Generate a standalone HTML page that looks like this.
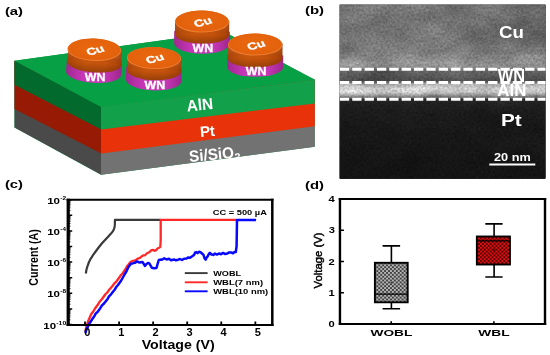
<!DOCTYPE html>
<html lang="en">
<head>
<meta charset="utf-8">
<title>Figure</title>
<style>
html,body{margin:0;padding:0;background:#fff;}
body{width:550px;height:355px;overflow:hidden;}
svg{display:block;font-family:"Liberation Sans",sans-serif;}
</style>
</head>
<body>
<svg width="550" height="355" viewBox="0 0 550 355">
<defs>
<linearGradient id="cuSide" x1="0" y1="0" x2="1" y2="0">
<stop offset="0" stop-color="#a8420a"/><stop offset="0.12" stop-color="#b84c0a"/><stop offset="0.35" stop-color="#c8560c"/><stop offset="0.7" stop-color="#c4520c"/><stop offset="0.92" stop-color="#b04608"/><stop offset="1" stop-color="#9a3c08"/>
</linearGradient>
<linearGradient id="wnSide" x1="0" y1="0" x2="1" y2="0">
<stop offset="0" stop-color="#a02890"/><stop offset="0.3" stop-color="#c636b6"/><stop offset="0.7" stop-color="#c838b8"/><stop offset="1" stop-color="#9c268c"/>
</linearGradient>
<linearGradient id="cuV" x1="0" y1="0" x2="0" y2="1"><stop offset="0.3" stop-color="#fff" stop-opacity="0.06"/><stop offset="0.6" stop-color="#000" stop-opacity="0.0"/><stop offset="1" stop-color="#000" stop-opacity="0.24"/></linearGradient>
<radialGradient id="cuTop" cx="0.5" cy="0.45" r="0.6">
<stop offset="0" stop-color="#e8680e"/><stop offset="1" stop-color="#e2600c"/>
</radialGradient>
<linearGradient id="temBase" x1="0" y1="4.6" x2="0" y2="178.6" gradientUnits="userSpaceOnUse">
<stop offset="0.0000" stop-color="#707070"/>
<stop offset="0.1460" stop-color="#767676"/>
<stop offset="0.2724" stop-color="#7c7c7c"/>
<stop offset="0.3126" stop-color="#868686"/>
<stop offset="0.3356" stop-color="#929292"/>
<stop offset="0.3586" stop-color="#8e8e8e"/>
<stop offset="0.3730" stop-color="#707070"/>
<stop offset="0.3845" stop-color="#5e5e5e"/>
<stop offset="0.4103" stop-color="#585858"/>
<stop offset="0.4362" stop-color="#4c4c4c"/>
<stop offset="0.4477" stop-color="#707070"/>
<stop offset="0.4592" stop-color="#b0b0b0"/>
<stop offset="0.4793" stop-color="#cccccc"/>
<stop offset="0.5023" stop-color="#c8c8c8"/>
<stop offset="0.5195" stop-color="#9c9c9c"/>
<stop offset="0.5339" stop-color="#686868"/>
<stop offset="0.5454" stop-color="#282828"/>
<stop offset="0.5655" stop-color="#222222"/>
<stop offset="0.6172" stop-color="#1b1b1b"/>
<stop offset="0.7494" stop-color="#171717"/>
<stop offset="1.0000" stop-color="#141414"/>
</linearGradient>
<linearGradient id="temH" x1="340" y1="0" x2="545.4" y2="0" gradientUnits="userSpaceOnUse">
<stop offset="0" stop-color="#000" stop-opacity="0"/><stop offset="0.5" stop-color="#000" stop-opacity="0"/><stop offset="1" stop-color="#000" stop-opacity="0.14"/>
</linearGradient>
<filter id="temNoise" x="0" y="0" width="1" height="1" color-interpolation-filters="sRGB">
<feTurbulence type="fractalNoise" baseFrequency="0.42" numOctaves="2" seed="7" result="n"/>
<feColorMatrix in="n" type="matrix" values="1 0 0 0 0  1 0 0 0 0  1 0 0 0 0  0 0 0 0 1" result="ng"/>
<feTurbulence type="fractalNoise" baseFrequency="0.03 0.045" numOctaves="2" seed="3" result="l"/>
<feColorMatrix in="l" type="matrix" values="0 1 0 0 0  0 1 0 0 0  0 1 0 0 0  0 0 0 0 1" result="lg"/>
<feComposite in="SourceGraphic" in2="ng" operator="arithmetic" k1="0.42" k2="0.79" k3="0.03" k4="-0.015" result="a"/>
<feComposite in="a" in2="lg" operator="arithmetic" k1="0.5" k2="0.75" k3="0" k4="0"/>
</filter>
<pattern id="hatG" x="375.35" y="263.4" width="3.9" height="3.8" patternUnits="userSpaceOnUse">
<rect width="3.9" height="3.8" fill="#363636"/>
<path d="M0.73,1.9 L1.95,0.6799999999999999 L3.17,1.9 L1.95,3.12 Z" fill="#e6e6e6"/><path d="M-1.22,0 L0,-1.22 L1.22,0 L0,1.22 Z" fill="#e6e6e6"/><path d="M2.6799999999999997,0 L3.9,-1.22 L5.12,0 L3.9,1.22 Z" fill="#e6e6e6"/><path d="M-1.22,3.8 L0,2.58 L1.22,3.8 L0,5.02 Z" fill="#e6e6e6"/><path d="M2.6799999999999997,3.8 L3.9,2.58 L5.12,3.8 L3.9,5.02 Z" fill="#e6e6e6"/>
</pattern>
<pattern id="hatR" x="476.95" y="236.4" width="3.9" height="3.8" patternUnits="userSpaceOnUse">
<rect width="3.9" height="3.8" fill="#260000"/>
<path d="M0.53,1.9 L1.95,0.48 L3.37,1.9 L1.95,3.32 Z" fill="#ff1212"/><path d="M-1.42,0 L0,-1.42 L1.42,0 L0,1.42 Z" fill="#ff1212"/><path d="M2.48,0 L3.9,-1.42 L5.32,0 L3.9,1.42 Z" fill="#ff1212"/><path d="M-1.42,3.8 L0,2.38 L1.42,3.8 L0,5.22 Z" fill="#ff1212"/><path d="M2.48,3.8 L3.9,2.38 L5.32,3.8 L3.9,5.22 Z" fill="#ff1212"/>
</pattern>
<clipPath id="slabClip"><polygon points="14.5,60.7 224.1,31.8 314.8,79.8 314.8,146.8 101,174.7 14.5,127.4"/></clipPath>
</defs>
<rect width="550" height="355" fill="#fff"/>

<g id="panelA">
<polygon points="14.5,60.7 224.1,31.8 314.8,79.8 314.8,146.8 101.0,174.7 14.5,127.4" fill="#0a9c46"/>
<polygon points="14.5,60.7 101.3,106.5 101.3,174.7 14.5,127.4" fill="#4a4a4a"/>
<polygon points="14.5,60.7 101.3,106.5 101.3,153.6 14.5,108.9" fill="#961a04"/>
<polygon points="14.5,60.7 101.3,106.5 101.3,129.4 14.5,84.8" fill="#026a2c"/>
<polygon points="101.0,106.5 314.8,79.8 314.8,146.8 101.0,174.7" fill="#727272"/>
<polygon points="101.0,106.5 314.8,79.8 314.8,126.3 101.0,153.6" fill="#e8320a"/>
<polygon points="101.0,106.5 314.8,79.8 314.8,103.5 101.0,129.4" fill="#12a04a"/>
<polygon points="14.5,60.7 224.1,31.8 314.8,79.8 101.0,106.9" fill="#08a044"/>
<g transform="rotate(0.7 202.0 34.3)">
<path d="M174.20,31.30 L174.20,43.20 A27.80,10.6 0 0 0 229.80,43.20 L229.80,31.30 Z" fill="url(#wnSide)"/>
<path d="M174.90,20.60 L174.90,34.30 A27.1,9.4 0 0 0 229.10,34.30 L229.10,20.60 Z" fill="url(#cuSide)"/>
<path d="M174.90,20.60 L174.90,34.30 A27.1,9.4 0 0 0 229.10,34.30 L229.10,20.60 Z" fill="url(#cuV)"/>
</g>
<g transform="rotate(0.5 202.0 21.6)">
<ellipse cx="202.0" cy="21.6" rx="27.1" ry="11.0" fill="#ec7c2e"/>
<ellipse cx="202.0" cy="21.05" rx="26.400000000000002" ry="10.45" fill="url(#cuTop)"/>
</g>
<text transform="translate(202.90 22.10) scale(1.4 1) rotate(-21)" x="0" y="3.4" text-anchor="middle" font-size="9.8" font-weight="bold" fill="#fff" stroke="#fff" stroke-width="0.3">Cu</text>
<text x="192.59" y="51.80" font-size="10.32" font-weight="bold" fill="#fff" textLength="20.65" lengthAdjust="spacingAndGlyphs" stroke="#fff" stroke-width="0.3">WN</text>
<g transform="rotate(4.0 94.3 63.6)">
<path d="M66.70,60.60 L66.70,73.10 A27.60,9.8 0 0 0 121.90,73.10 L121.90,60.60 Z" fill="url(#wnSide)"/>
<path d="M67.40,48.80 L67.40,63.60 A26.9,8.8 0 0 0 121.20,63.60 L121.20,48.80 Z" fill="url(#cuSide)"/>
<path d="M67.40,48.80 L67.40,63.60 A26.9,8.8 0 0 0 121.20,63.60 L121.20,48.80 Z" fill="url(#cuV)"/>
</g>
<g transform="rotate(2.0 94.3 49.8)">
<ellipse cx="94.3" cy="49.8" rx="26.9" ry="11.2" fill="#ec7c2e"/>
<ellipse cx="94.3" cy="49.25" rx="26.2" ry="10.649999999999999" fill="url(#cuTop)"/>
</g>
<text transform="translate(95.20 50.30) scale(1.4 1) rotate(-21)" x="0" y="3.4" text-anchor="middle" font-size="9.8" font-weight="bold" fill="#fff" stroke="#fff" stroke-width="0.3">Cu</text>
<text x="84.89" y="80.90" font-size="10.32" font-weight="bold" fill="#fff" textLength="20.65" lengthAdjust="spacingAndGlyphs" stroke="#fff" stroke-width="0.3">WN</text>
<g transform="rotate(0.0 255.2 58.5)">
<path d="M227.20,55.50 L227.20,67.00 A28.00,9.8 0 0 0 283.20,67.00 L283.20,55.50 Z" fill="url(#wnSide)"/>
<path d="M227.90,43.60 L227.90,58.50 A27.3,9.0 0 0 0 282.50,58.50 L282.50,43.60 Z" fill="url(#cuSide)"/>
<path d="M227.90,43.60 L227.90,58.50 A27.3,9.0 0 0 0 282.50,58.50 L282.50,43.60 Z" fill="url(#cuV)"/>
</g>
<g transform="rotate(0.3 255.2 44.6)">
<ellipse cx="255.2" cy="44.6" rx="27.3" ry="11.0" fill="#ec7c2e"/>
<ellipse cx="255.2" cy="44.050000000000004" rx="26.6" ry="10.45" fill="url(#cuTop)"/>
</g>
<text transform="translate(256.10 45.10) scale(1.4 1) rotate(-21)" x="0" y="3.4" text-anchor="middle" font-size="9.8" font-weight="bold" fill="#fff" stroke="#fff" stroke-width="0.3">Cu</text>
<text x="245.79" y="74.80" font-size="10.32" font-weight="bold" fill="#fff" textLength="20.65" lengthAdjust="spacingAndGlyphs" stroke="#fff" stroke-width="0.3">WN</text>
<g transform="rotate(1.8 154.0 70.6)">
<path d="M126.20,67.60 L126.20,80.20 A27.80,10.3 0 0 0 181.80,80.20 L181.80,67.60 Z" fill="url(#wnSide)"/>
<path d="M126.90,57.10 L126.90,70.60 A27.1,9.6 0 0 0 181.10,70.60 L181.10,57.10 Z" fill="url(#cuSide)"/>
<path d="M126.90,57.10 L126.90,70.60 A27.1,9.6 0 0 0 181.10,70.60 L181.10,57.10 Z" fill="url(#cuV)"/>
</g>
<g transform="rotate(1.5 154.0 58.1)">
<ellipse cx="154.0" cy="58.1" rx="27.1" ry="11.0" fill="#ec7c2e"/>
<ellipse cx="154.0" cy="57.550000000000004" rx="26.400000000000002" ry="10.45" fill="url(#cuTop)"/>
</g>
<text transform="translate(154.90 58.60) scale(1.4 1) rotate(-21)" x="0" y="3.4" text-anchor="middle" font-size="9.8" font-weight="bold" fill="#fff" stroke="#fff" stroke-width="0.3">Cu</text>
<text x="144.59" y="88.50" font-size="10.32" font-weight="bold" fill="#fff" textLength="20.65" lengthAdjust="spacingAndGlyphs" stroke="#fff" stroke-width="0.3">WN</text>
<g clip-path="url(#slabClip)">
<text x="187.22" y="111.40" font-size="15.99" font-weight="bold" fill="#fff" textLength="26.42" lengthAdjust="spacingAndGlyphs" transform="rotate(-5.5 187.60 111.40)">AlN</text>
<text x="200.40" y="137.00" font-size="14.97" font-weight="bold" fill="#fff" textLength="14.99" lengthAdjust="spacingAndGlyphs" transform="rotate(-5 201.40 137.00)">Pt</text>
<text x="189.56" y="161.9" font-size="16.0" font-weight="bold" fill="#fff" transform="rotate(-5.2 190 161.9)"><tspan textLength="45.08" lengthAdjust="spacingAndGlyphs">Si/SiO</tspan><tspan font-size="10.5" dy="3" dx="0.3">2</tspan></text>
</g>
<text x="4.96" y="14.90" font-size="11.50" font-weight="bold" fill="#000" textLength="18.07" lengthAdjust="spacingAndGlyphs">(a)</text>
</g>
<g id="panelB">
<g filter="url(#temNoise)"><rect x="339.6" y="4.6" width="205.9" height="174" fill="url(#temBase)"/><rect x="339.6" y="4.6" width="205.9" height="50" fill="url(#temH)"/></g>
<text x="498.93" y="38.00" font-size="17.01" font-weight="bold" fill="#fff" textLength="24.90" lengthAdjust="spacingAndGlyphs">Cu</text>
<text x="497.68" y="82.40" font-size="17.44" font-weight="bold" fill="#fff" textLength="27.32" lengthAdjust="spacingAndGlyphs">WN</text>
<text x="497.28" y="96.20" font-size="15.70" font-weight="bold" fill="#fff" textLength="29.16" lengthAdjust="spacingAndGlyphs">AlN</text>
<text x="501.01" y="125.60" font-size="16.57" font-weight="bold" fill="#fff" textLength="20.74" lengthAdjust="spacingAndGlyphs">Pt</text>
<text x="494.06" y="160.80" font-size="10.47" font-weight="bold" fill="#fff" textLength="36.73" lengthAdjust="spacingAndGlyphs">20 nm</text>
<line x1="339.6" y1="69.2" x2="545.5" y2="69.2" stroke="#fff" stroke-width="3.0" stroke-dasharray="9.3 3.05" stroke-dashoffset="-0.3"/>
<line x1="339.6" y1="82.4" x2="545.5" y2="82.4" stroke="#fff" stroke-width="3.0" stroke-dasharray="9.3 3.05" stroke-dashoffset="-0.3"/>
<line x1="339.6" y1="99.2" x2="545.5" y2="99.2" stroke="#fff" stroke-width="3.0" stroke-dasharray="9.3 3.05" stroke-dashoffset="-0.3"/>
<line x1="489.3" y1="164.6" x2="535.3" y2="164.6" stroke="#fff" stroke-width="2.0"/>
<text x="304.96" y="13.80" font-size="11.50" font-weight="bold" fill="#000" textLength="19.09" lengthAdjust="spacingAndGlyphs">(b)</text>
</g>
<g id="panelC">
<polyline points="85.8,273.5 86.5,269.5 87.6,265.8 89.0,262.0 90.8,258.6 93.0,255.2 96.0,251.0 99.0,247.0 102.0,243.3 105.5,239.5 108.8,236.0 111.0,233.6 112.8,231.4 113.9,229.3 114.6,227.0 114.9,224.0 114.9,219.9 160.6,219.9" fill="none" stroke="#3a3a3a" stroke-width="2.2" stroke-linejoin="round" stroke-linecap="butt"/>
<polyline points="85.4,331.5 86.2,327.0 88.0,321.5 91.0,314.5 93.0,311.8 95.0,308.5 98.3,304.0 100.0,301.2 102.0,299.0 105.6,294.0 107.2,292.6 109.0,290.0 112.9,285.5 114.5,283.2 116.0,282.0 119.3,277.5 121.0,275.0 122.5,273.5 125.6,269.0 127.0,266.2 128.5,264.5 131.0,261.5 133.3,260.8 135.8,260.2 138.0,258.5 140.0,257.8 142.6,255.7 145.0,255.2 147.0,253.2 149.3,252.3 151.0,250.4 152.7,249.9 154.5,250.8 156.1,250.2 157.5,248.5 159.0,247.8 160.3,246.8 160.7,240.0 160.7,219.9 236.4,219.9" fill="none" stroke="#ff2828" stroke-width="2.3" stroke-linejoin="round" stroke-linecap="butt"/>
<polyline points="85.6,333.0 85.9,331.0 86.6,329.5 89.1,324.0 92.0,319.5 94.6,315.7 96.0,313.2 97.5,312.0 100.1,308.4 102.0,305.4 104.0,303.5 107.4,299.3 109.0,296.4 111.0,294.3 114.8,289.5 116.5,286.6 118.0,285.0 121.2,280.5 124.0,275.5 126.6,271.0 128.5,267.0 130.9,263.7 132.5,263.4 134.8,262.9 137.1,261.4 139.5,262.6 142.6,262.1 143.8,264.0 144.9,266.0 146.5,264.0 148.0,262.9 149.5,263.7 150.8,266.0 151.9,267.8 154.0,268.3 156.5,267.9 157.6,264.0 158.8,260.0 160.5,259.6 161.9,259.8 164.3,258.3 166.6,259.5 169.0,258.8 171.0,260.2 174.0,259.5 176.0,260.3 178.1,259.7 180.0,259.0 182.0,260.0 184.0,258.8 186.6,258.5 188.0,257.5 190.0,257.8 192.2,256.3 194.0,255.0 195.2,252.5 196.4,252.1 197.5,253.2 199.0,251.8 200.6,252.3 202.0,253.5 203.5,254.9 204.6,258.5 205.7,259.7 206.6,257.5 207.7,256.3 208.8,254.0 209.9,252.9 211.5,254.5 213.3,254.9 215.0,253.6 217.0,254.6 218.9,253.5 221.0,254.2 223.2,252.9 225.0,254.0 227.4,253.5 229.0,252.4 231.6,252.6 233.0,253.3 234.5,252.0 235.8,252.1 236.6,246.0 237.0,219.9 256.1,219.9" fill="none" stroke="#0808ff" stroke-width="2.5" stroke-linejoin="round" stroke-linecap="butt"/>
<path d="M68.2,198.7 V326.0" stroke="#000" stroke-width="3.2" fill="none"/><path d="M272.3,198.7 V326.0" stroke="#000" stroke-width="2.5" fill="none"/>
<path d="M66.60000000000001,199.7 H273.5 M66.60000000000001,325.0 H273.5" stroke="#000" stroke-width="2.0" fill="none"/>
<path d="M68.2,319.80 h2.4 M68.2,317.06 h2.4 M68.2,315.11 h2.4 M68.2,313.60 h2.4 M68.2,312.36 h2.4 M68.2,311.32 h2.4 M68.2,310.41 h2.4 M68.2,309.61 h2.4 M68.2,304.20 h2.4 M68.2,301.46 h2.4 M68.2,299.51 h2.4 M68.2,298.00 h2.4 M68.2,296.76 h2.4 M68.2,295.72 h2.4 M68.2,294.81 h2.4 M68.2,294.01 h2.4 M68.2,288.60 h2.4 M68.2,285.86 h2.4 M68.2,283.91 h2.4 M68.2,282.40 h2.4 M68.2,281.16 h2.4 M68.2,280.12 h2.4 M68.2,279.21 h2.4 M68.2,278.41 h2.4 M68.2,273.00 h2.4 M68.2,270.26 h2.4 M68.2,268.31 h2.4 M68.2,266.80 h2.4 M68.2,265.56 h2.4 M68.2,264.52 h2.4 M68.2,263.61 h2.4 M68.2,262.81 h2.4 M68.2,257.40 h2.4 M68.2,254.66 h2.4 M68.2,252.71 h2.4 M68.2,251.20 h2.4 M68.2,249.96 h2.4 M68.2,248.92 h2.4 M68.2,248.01 h2.4 M68.2,247.21 h2.4 M68.2,241.80 h2.4 M68.2,239.06 h2.4 M68.2,237.11 h2.4 M68.2,235.60 h2.4 M68.2,234.36 h2.4 M68.2,233.32 h2.4 M68.2,232.41 h2.4 M68.2,231.61 h2.4 M68.2,226.20 h2.4 M68.2,223.46 h2.4 M68.2,221.51 h2.4 M68.2,220.00 h2.4 M68.2,218.76 h2.4 M68.2,217.72 h2.4 M68.2,216.81 h2.4 M68.2,216.01 h2.4 M68.2,210.60 h2.4 M68.2,207.86 h2.4 M68.2,205.91 h2.4 M68.2,204.40 h2.4 M68.2,203.16 h2.4 M68.2,202.12 h2.4 M68.2,201.21 h2.4 M68.2,200.41 h2.4" stroke="#000" stroke-width="0.7" fill="none"/>
<path d="M68.2,324.50 h4.0 M68.2,308.90 h4.0 M68.2,293.30 h4.0 M68.2,277.70 h4.0 M68.2,262.10 h4.0 M68.2,246.50 h4.0 M68.2,230.90 h4.0 M68.2,215.30 h4.0 M68.2,199.70 h4.0" stroke="#000" stroke-width="1.5" fill="none"/>
<path d="M85.00,325.0 v-3.4 M119.07,325.0 v-3.4 M153.14,325.0 v-3.4 M187.21,325.0 v-3.4 M221.28,325.0 v-3.4 M255.35,325.0 v-3.4" stroke="#000" stroke-width="1.8" fill="none"/>
<text x="47.18" y="203.80" font-size="9.45" font-weight="bold" fill="#000" textLength="12.80" lengthAdjust="spacingAndGlyphs">10</text>
<text x="60.34" y="199.70" font-size="5.81" font-weight="bold" fill="#000" textLength="5.82" lengthAdjust="spacingAndGlyphs">-2</text>
<text x="47.18" y="235.00" font-size="9.45" font-weight="bold" fill="#000" textLength="12.80" lengthAdjust="spacingAndGlyphs">10</text>
<text x="60.35" y="230.90" font-size="5.81" font-weight="bold" fill="#000" textLength="5.58" lengthAdjust="spacingAndGlyphs">-4</text>
<text x="47.18" y="266.20" font-size="9.45" font-weight="bold" fill="#000" textLength="12.80" lengthAdjust="spacingAndGlyphs">10</text>
<text x="60.35" y="262.10" font-size="5.81" font-weight="bold" fill="#000" textLength="5.79" lengthAdjust="spacingAndGlyphs">-6</text>
<text x="47.18" y="297.40" font-size="9.45" font-weight="bold" fill="#000" textLength="12.80" lengthAdjust="spacingAndGlyphs">10</text>
<text x="60.35" y="293.30" font-size="5.81" font-weight="bold" fill="#000" textLength="5.75" lengthAdjust="spacingAndGlyphs">-8</text>
<text x="43.28" y="328.60" font-size="9.45" font-weight="bold" fill="#000" textLength="12.80" lengthAdjust="spacingAndGlyphs">10</text>
<text x="56.33" y="324.50" font-size="5.81" font-weight="bold" fill="#000" textLength="9.95" lengthAdjust="spacingAndGlyphs">-10</text>
<text x="84.34" y="335.70" font-size="10.03" font-weight="bold" fill="#000" textLength="6.14" lengthAdjust="spacingAndGlyphs">0</text>
<text x="118.21" y="335.70" font-size="10.03" font-weight="bold" fill="#000" textLength="6.14" lengthAdjust="spacingAndGlyphs">1</text>
<text x="152.50" y="335.70" font-size="10.03" font-weight="bold" fill="#000" textLength="6.14" lengthAdjust="spacingAndGlyphs">2</text>
<text x="186.61" y="335.70" font-size="10.03" font-weight="bold" fill="#000" textLength="6.14" lengthAdjust="spacingAndGlyphs">3</text>
<text x="220.56" y="335.70" font-size="10.03" font-weight="bold" fill="#000" textLength="6.14" lengthAdjust="spacingAndGlyphs">4</text>
<text x="254.67" y="335.70" font-size="10.03" font-weight="bold" fill="#000" textLength="6.14" lengthAdjust="spacingAndGlyphs">5</text>
<text x="141.70" y="348.50" font-size="11.92" font-weight="bold" fill="#000" textLength="72.99" lengthAdjust="spacingAndGlyphs">Voltage (V)</text>
<g transform="translate(38.3 285.2) rotate(-90)"><text x="-0.44" y="0.00" font-size="11.92" font-weight="bold" fill="#000" textLength="56.47" lengthAdjust="spacingAndGlyphs">Current (A)</text></g>
<text x="212.82" y="215.00" font-size="7.41" font-weight="bold" fill="#000" textLength="54.02" lengthAdjust="spacingAndGlyphs">CC = 500 µA</text>
<line x1="184.8" y1="273.1" x2="207.6" y2="273.1" stroke="#3a3a3a" stroke-width="1.9"/>
<text x="213.19" y="275.70" font-size="7.41" font-weight="bold" fill="#000" textLength="27.89" lengthAdjust="spacingAndGlyphs">WOBL</text>
<line x1="184.8" y1="282.3" x2="207.6" y2="282.3" stroke="#ff2828" stroke-width="1.9"/>
<text x="213.19" y="285.20" font-size="7.41" font-weight="bold" fill="#000" textLength="49.88" lengthAdjust="spacingAndGlyphs">WBL(7 nm)</text>
<line x1="184.8" y1="291.3" x2="207.6" y2="291.3" stroke="#0808ff" stroke-width="1.9"/>
<text x="213.19" y="294.40" font-size="7.41" font-weight="bold" fill="#000" textLength="54.98" lengthAdjust="spacingAndGlyphs">WBL(10 nm)</text>
<text x="4.96" y="188.10" font-size="11.50" font-weight="bold" fill="#000" textLength="18.07" lengthAdjust="spacingAndGlyphs">(c)</text>
</g>
<g id="panelD">
<path d="M391.4,245.9 V308.7 M382.6,245.9 H400.1 M382.6,308.7 H400.1" stroke="#000" stroke-width="1.6" fill="none"/>
<rect x="374.9" y="262.8" width="32.8" height="39.5" fill="url(#hatG)" stroke="#000" stroke-width="1.9"/>
<line x1="374.9" y1="294.2" x2="407.7" y2="294.2" stroke="#000" stroke-width="1.3"/>
<path d="M494.1,223.9 V277.0 M485.3,223.9 H502.6 M485.3,277.0 H502.6" stroke="#000" stroke-width="1.6" fill="none"/>
<rect x="476.85" y="236.5" width="33.1" height="28.0" fill="url(#hatR)" stroke="#000" stroke-width="1.9"/>
<line x1="476.85" y1="240.8" x2="510.0" y2="240.8" stroke="#000" stroke-width="1.3"/>
<rect x="390.7" y="282" width="1.4" height="1.4" fill="#333"/><rect x="493.4" y="249.5" width="1.4" height="1.4" fill="#200"/>
<path d="M339.95,198.05 V325.0 M545.0,198.05 V325.0" stroke="#000" stroke-width="2.4" fill="none"/>
<path d="M338.75,199.05 H546.2 M338.75,324.0 H546.2" stroke="#000" stroke-width="2.1" fill="none"/>
<path d="M339.95,324.00 h4.0 M339.95,292.76 h4.0 M339.95,261.52 h4.0 M339.95,230.28 h4.0 M339.95,199.04 h4.0 M391.2,324.0 v-2.8 M493.9,324.0 v-2.8" stroke="#000" stroke-width="1.6" fill="none"/>
<text x="328.60" y="327.10" font-size="9.16" font-weight="bold" fill="#000" textLength="6.21" lengthAdjust="spacingAndGlyphs">0</text>
<text x="328.40" y="295.86" font-size="9.16" font-weight="bold" fill="#000" textLength="6.21" lengthAdjust="spacingAndGlyphs">1</text>
<text x="328.62" y="264.62" font-size="9.16" font-weight="bold" fill="#000" textLength="6.21" lengthAdjust="spacingAndGlyphs">2</text>
<text x="328.67" y="233.38" font-size="9.16" font-weight="bold" fill="#000" textLength="6.21" lengthAdjust="spacingAndGlyphs">3</text>
<text x="328.54" y="202.14" font-size="9.16" font-weight="bold" fill="#000" textLength="6.21" lengthAdjust="spacingAndGlyphs">4</text>
<text x="370.49" y="336.20" font-size="9.88" font-weight="bold" fill="#000" textLength="41.83" lengthAdjust="spacingAndGlyphs">WOBL</text>
<text x="478.29" y="336.30" font-size="9.88" font-weight="bold" fill="#000" textLength="31.24" lengthAdjust="spacingAndGlyphs">WBL</text>
<g transform="translate(321.9 288.4) rotate(-90)"><text x="-0.05" y="0.00" font-size="11.00" font-weight="normal" fill="#000" textLength="55.94" lengthAdjust="spacingAndGlyphs" stroke="#000" stroke-width="0.45">Voltage (V)</text></g>
<text x="305.06" y="188.90" font-size="11.50" font-weight="bold" fill="#000" textLength="18.98" lengthAdjust="spacingAndGlyphs">(d)</text>
</g>
</svg>
</body>
</html>
